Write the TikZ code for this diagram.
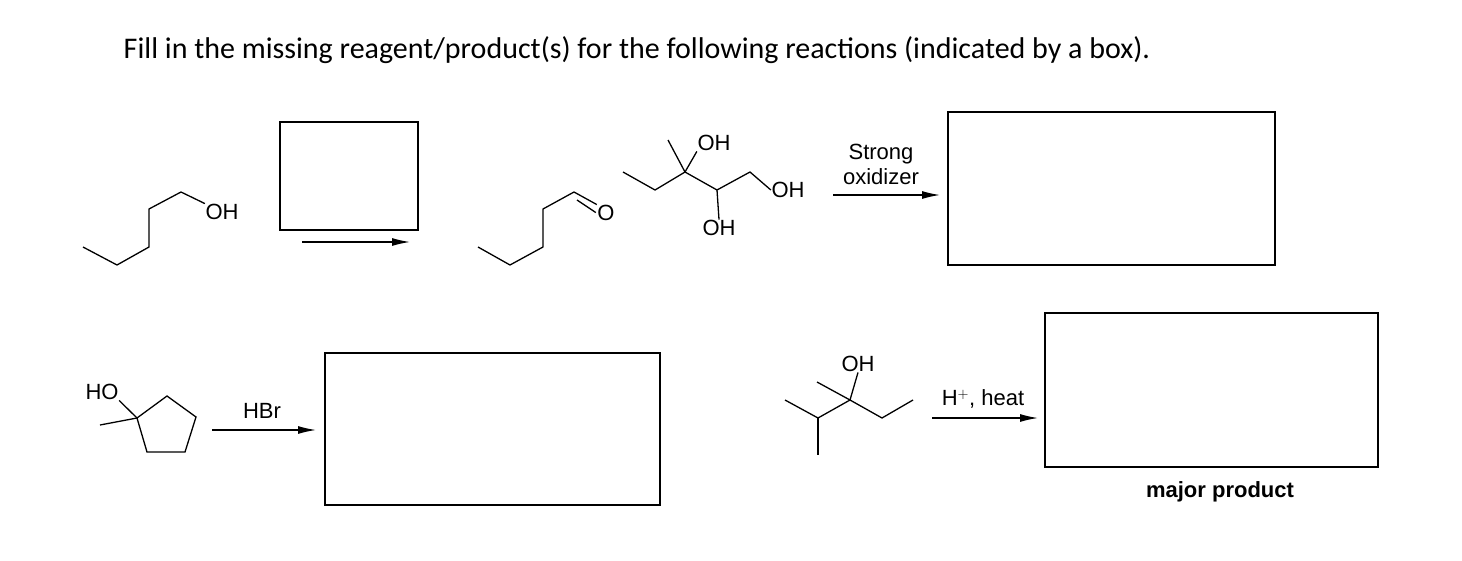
\documentclass[tikz,border=0pt]{standalone}
\usepackage{fontspec}
\setmainfont{Liberation Sans}
\newfontfamily\titlefont{Carlito}
\usetikzlibrary{arrows.meta,calc}
\begin{document}
\begin{tikzpicture}[x=1pt,y=-1pt,line width=1.3pt,
  lab/.style={inner sep=0pt,font=\fontsize{22}{24}\selectfont},
  bx/.style={draw,line width=1.3pt},
  rx/.style={-{Latex[length=18pt,width=8pt]},line width=1.3pt}]
\useasboundingbox (0,0) rectangle (1462,560);
\node[font=\titlefont\fontsize{30}{33}\selectfont] (title) at (637,50) {Fill in the missing reagent/product(s) for the following reactions (indicated by a box).};
% pentanol
\node[lab] (oh1) at (222,212) {OH};
\draw (83,247)--(117,265)--(149,247)--(149,209)--(181,192)--(oh1.north west);
% box1 + arrow
\draw[bx] (280,122) rectangle (418,230);
\coordinate (a1s) at (302,242); \coordinate (a1e) at (410,242);
\draw[rx] (a1s)--(a1e);
% pentanal
\node[lab] (o1) at (606,213) {O};
\draw (478,247)--(510,265)--(543,247)--(543,209)--(574,192)--(o1.north west);
\draw ($(574,192)+(3,8)$)--($(o1.north west)+(-1,8)$);
% diol
\node[lab] (oh2) at (714,143) {OH};
\node[lab] (oh3) at (788,190) {OH};
\node[lab] (oh4) at (719,228) {OH};
\draw (623,172)--(655,190)--(685,172)--(717,190)--(750,172)--(oh3.west);
\draw (685,172)--(668,140);
\draw (685,172)--(oh2.south west);
\draw (717,190)--(oh4.north);
\node[lab,align=center] (t2) at (881,164) {Strong\\[1pt]oxidizer};
\coordinate (a2s) at (833,195); \coordinate (a2e) at (940,195);
\draw[rx] (a2s)--(a2e);
\draw[bx] (948,112) rectangle (1275,265);
% methylcyclopentanol
\node[lab] (ho) at (102,392) {HO};
\draw (ho.south east)--(137,418);
\draw (100,425)--(137,418);
\draw (137,418)--(167,396)--(196,417)--(185,452)--(147,452)--cycle;
\node[lab] (hbr) at (262,411) {HBr};
\coordinate (a3s) at (212,430); \coordinate (a3e) at (316,430);
\draw[rx] (a3s)--(a3e);
\draw[bx] (325,353) rectangle (660,505);
% 2,3-dimethylpentan-3-ol
\node[lab] (oh5) at (858,364) {OH};
\draw (850,400)--(oh5.south);
\draw (817,382)--(850,400)--(882,418)--(913,400);
\draw (850,400)--(818,418)--(785,400);
\draw (818,418)--(818,455);
\node[lab] (hh) at (983,399) {H$^+$, heat};
\coordinate (a4s) at (932,418); \coordinate (a4e) at (1038,418);
\draw[rx] (a4s)--(a4e);
\draw[bx] (1045,313) rectangle (1378,467);
\node[lab,font=\bfseries\fontsize{22}{24}\selectfont] (mp) at (1220,492) {major product};
\end{tikzpicture}
\end{document}
